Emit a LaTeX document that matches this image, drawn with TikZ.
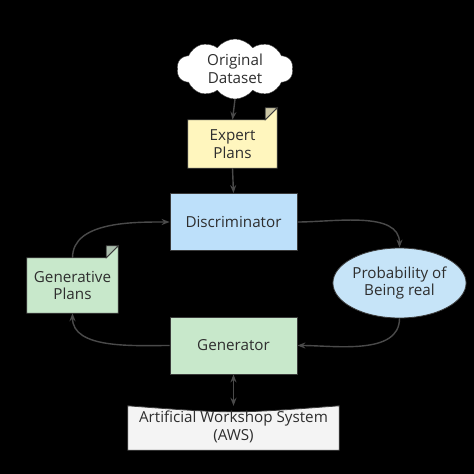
\documentclass[tikz,border=0pt]{standalone}
\usepackage{fontspec}
\setmainfont{Open Sans}
\usetikzlibrary{shapes.symbols,shapes.geometric,arrows.meta}
\definecolor{bordc}{HTML}{3A3A3A}
\definecolor{linec}{HTML}{4A4A4A}
\definecolor{txtc}{HTML}{2E2E2E}
\definecolor{yel}{HTML}{FFF6BE}
\definecolor{blu}{HTML}{BDE0FA}
\definecolor{ell}{HTML}{C6E4F8}
\definecolor{grn}{HTML}{C8E8CB}
\definecolor{wht}{HTML}{F4F4F4}
\tikzset{
  lbl/.style={text=txtc, font=\fontsize{15.2}{17.5}\selectfont, align=center},
  boxn/.style={lbl, draw=bordc, line width=0.8pt, rectangle, minimum width=127, minimum height=57},
  conn/.style={draw=linec, line width=1.4pt, -{Stealth[length=8pt,width=6pt]}},
}
\begin{document}
\begin{tikzpicture}[x=1pt,y=-1pt]
\fill[black] (0,0) rectangle (474,474);
\useasboundingbox (0,0) rectangle (474,474);
% cloud
\node[lbl, cloud, cloud puffs=10, cloud puff arc=105, aspect=2, draw=bordc, fill=white, minimum width=116, minimum height=60, inner sep=0pt] (cloud) at (235,69) {Original\\Dataset};
% expert plans
\node[lbl, minimum width=89, minimum height=48] (exp) at (232.5,144) {};
\filldraw[fill=yel, draw=bordc, line width=0.8pt] (exp.north west) -- ([xshift=-12]exp.north east) -- ([yshift=12]exp.north east) -- (exp.south east) -- (exp.south west) -- cycle;
\filldraw[fill=yel!60!gray, draw=bordc, line width=0.8pt] ([xshift=-12]exp.north east) -- ([xshift=-12,yshift=12]exp.north east) -- ([yshift=12]exp.north east) -- cycle;
\node[lbl] at (exp) {Expert\\Plans};
% discriminator
\node[boxn, fill=blu] (disc) at (233.5,222) {Discriminator};
% ellipse
\node[lbl, ellipse, draw=bordc, line width=0.8pt, fill=ell, minimum width=125, minimum height=70, inner sep=0pt] (prob) at (399.5,283) {Probability of\\Being real};
% generator
\node[boxn, fill=grn] (gen) at (233.5,345.5) {Generator};
% generative plans
\node[lbl, minimum width=91, minimum height=55] (gp) at (72.5,285.5) {};
\filldraw[fill=grn, draw=bordc, line width=0.8pt] (gp.north west) -- ([xshift=-12]gp.north east) -- ([yshift=12]gp.north east) -- (gp.south east) -- (gp.south west) -- cycle;
\filldraw[fill=grn!60!gray, draw=bordc, line width=0.8pt] ([xshift=-12]gp.north east) -- ([xshift=-12,yshift=12]gp.north east) -- ([yshift=12]gp.north east) -- cycle;
\node[lbl] at (gp) {Generative\\Plans};
% AWS
\node[lbl, minimum width=211, minimum height=44, inner sep=0pt] (aws) at (233.5,428) {};
\filldraw[fill=wht, draw=bordc, line width=0.8pt] (aws.south west) -- (aws.north west) .. controls ([yshift=-8]aws.north) .. (aws.north east) -- (aws.south east) -- cycle;
\node[lbl, anchor=center] at ([yshift=1]aws.center) {Artificial Workshop System\\(AWS)};
% connectors
\draw[conn] (cloud.south) -- (exp.north);
\draw[conn] (exp.south) -- (disc.north);
\draw[conn] (disc.east) to[out=0,in=90,looseness=0.9] (prob.north);
\draw[conn] (prob.south) to[out=-90,in=0,looseness=0.9] (gen.east);
\draw[conn] (gen.west) to[out=180,in=-90,looseness=0.9] (gp.south);
\draw[conn] (gp.north) to[out=90,in=180,looseness=0.9] (disc.west);
\draw[conn, {Stealth[length=8pt,width=6pt]}-{Stealth[length=8pt,width=6pt]}] (gen.south) -- (aws.north);
\end{tikzpicture}
\end{document}
